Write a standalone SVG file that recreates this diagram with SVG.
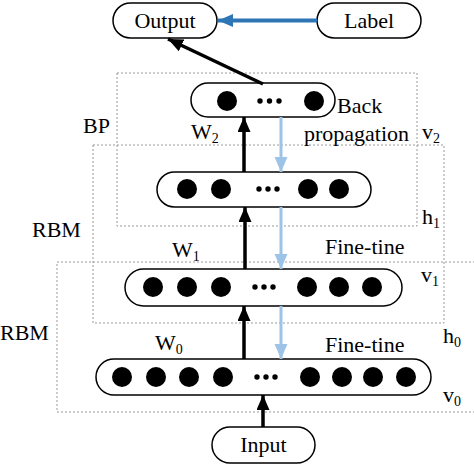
<svg xmlns="http://www.w3.org/2000/svg" width="474" height="474" viewBox="0 0 474 474">
<style>
.t{font-family:"Liberation Serif","Times New Roman",serif;font-size:22px;fill:#000}
.s{font-size:14px}
.node{fill:#fff;stroke:#000;stroke-width:1.5}
.box{fill:none;stroke:#999;stroke-width:1;stroke-dasharray:2,2}
.u{fill:#000}
</style>
<defs>
<marker id="ab" markerUnits="userSpaceOnUse" markerWidth="16" markerHeight="14" refX="15" refY="6.5" orient="auto"><path d="M0,0 L15,6.5 L0,13 z" fill="#000"/></marker>
<marker id="al" markerUnits="userSpaceOnUse" markerWidth="16" markerHeight="14" refX="15" refY="6.5" orient="auto"><path d="M0,0 L15,6.5 L0,13 z" fill="#9dc3e6"/></marker>
<marker id="ad" markerUnits="userSpaceOnUse" markerWidth="16" markerHeight="14" refX="15" refY="6.5" orient="auto"><path d="M0,0 L15,6.5 L0,13 z" fill="#2e75b6"/></marker>
</defs>
<rect fill="#fff" width="474" height="474"/>
<g id="boxes">
<rect class="box" x="117" y="73" width="300" height="153"/>
<rect class="box" x="93" y="145" width="351" height="178"/>
<rect class="box" x="57" y="262" width="420" height="150"/>
</g>
<g id="output"><rect class="node" x="113" y="3" width="104" height="35" rx="17.5"/><text class="t" x="165" y="28" text-anchor="middle">Output</text></g>
<g id="label"><rect class="node" x="317" y="3" width="104" height="35" rx="17.5"/><text class="t" x="369" y="28" text-anchor="middle">Label</text></g>
<g id="input"><rect class="node" x="212" y="427" width="103" height="36" rx="18"/><text class="t" x="263.5" y="452" text-anchor="middle">Input</text></g>
<g id="v2layer"><rect class="node" x="191" y="83" width="144" height="34" rx="17"/>
<circle class="u" cx="227" cy="101" r="10"/><circle class="u" cx="314" cy="101" r="10"/>
<circle class="u" cx="260" cy="101" r="2.7"/><circle class="u" cx="269.5" cy="101" r="2.7"/><circle class="u" cx="279" cy="101" r="2.7"/></g>
<g id="h1layer"><rect class="node" x="157" y="172" width="214" height="35" rx="17.5"/>
<circle class="u" cx="187" cy="189" r="10"/><circle class="u" cx="221" cy="189" r="10"/><circle class="u" cx="308" cy="189" r="10"/><circle class="u" cx="339" cy="189" r="10"/>
<circle class="u" cx="259" cy="189" r="2.7"/><circle class="u" cx="268" cy="189" r="2.7"/><circle class="u" cx="277" cy="189" r="2.7"/></g>
<g id="v1layer"><rect class="node" x="125" y="269" width="277" height="37" rx="18.5"/>
<circle class="u" cx="153" cy="287" r="10"/><circle class="u" cx="187" cy="287" r="10"/><circle class="u" cx="221" cy="287" r="10"/><circle class="u" cx="307" cy="287" r="10"/><circle class="u" cx="339" cy="287" r="10"/><circle class="u" cx="372" cy="287" r="10"/>
<circle class="u" cx="255" cy="287" r="2.7"/><circle class="u" cx="264" cy="287" r="2.7"/><circle class="u" cx="273" cy="287" r="2.7"/></g>
<g id="v0layer"><rect class="node" x="96" y="359" width="335" height="36" rx="18"/>
<circle class="u" cx="122" cy="377" r="10"/><circle class="u" cx="156" cy="377" r="10"/><circle class="u" cx="189" cy="377" r="10"/><circle class="u" cx="223" cy="377" r="10"/><circle class="u" cx="310" cy="377" r="10"/><circle class="u" cx="342" cy="377" r="10"/><circle class="u" cx="373" cy="377" r="10"/><circle class="u" cx="406" cy="377" r="10"/>
<circle class="u" cx="257" cy="377" r="2.7"/><circle class="u" cx="266" cy="377" r="2.7"/><circle class="u" cx="275" cy="377" r="2.7"/></g>
<g id="connectors" fill="none">
<line x1="317" y1="20.5" x2="218" y2="20.5" stroke="#2e75b6" stroke-width="4" marker-end="url(#ad)"/>
<line x1="263" y1="84" x2="168" y2="39" stroke="#000" stroke-width="3.5" marker-end="url(#ab)"/>
<line x1="244" y1="172" x2="244" y2="117" stroke="#000" stroke-width="3.5" marker-end="url(#ab)"/>
<line x1="245" y1="269" x2="245" y2="207" stroke="#000" stroke-width="3.5" marker-end="url(#ab)"/>
<line x1="244" y1="359" x2="244" y2="306" stroke="#000" stroke-width="3.5" marker-end="url(#ab)"/>
<line x1="263" y1="427" x2="263" y2="395" stroke="#000" stroke-width="3.5" marker-end="url(#ab)"/>
<line x1="281" y1="117" x2="281" y2="172" stroke="#9dc3e6" stroke-width="3" marker-end="url(#al)"/>
<line x1="281" y1="207" x2="281" y2="269" stroke="#9dc3e6" stroke-width="3" marker-end="url(#al)"/>
<line x1="281" y1="306" x2="281" y2="359" stroke="#9dc3e6" stroke-width="3" marker-end="url(#al)"/>
</g>
<g id="labels">
<text class="t" x="337" y="113">Back</text>
<text class="t" x="304" y="141">propagation</text>
<text class="t" x="83" y="133">BP</text>
<text class="t" x="191" y="139">W<tspan class="s" dy="4">2</tspan></text>
<text class="t" x="422" y="139">v<tspan class="s" dy="4">2</tspan></text>
<text class="t" x="422" y="224">h<tspan class="s" dy="4">1</tspan></text>
<text class="t" x="32" y="237">RBM</text>
<text class="t" x="172" y="257">W<tspan class="s" dy="4">1</tspan></text>
<text class="t" x="325" y="254">Fine-tine</text>
<text class="t" x="421" y="282">v<tspan class="s" dy="4">1</tspan></text>
<text class="t" x="0" y="340">RBM</text>
<text class="t" x="443" y="343">h<tspan class="s" dy="4">0</tspan></text>
<text class="t" x="155" y="350">W<tspan class="s" dy="4">0</tspan></text>
<text class="t" x="325" y="352">Fine-tine</text>
<text class="t" x="443" y="402">v<tspan class="s" dy="4">0</tspan></text>
</g>
</svg>
